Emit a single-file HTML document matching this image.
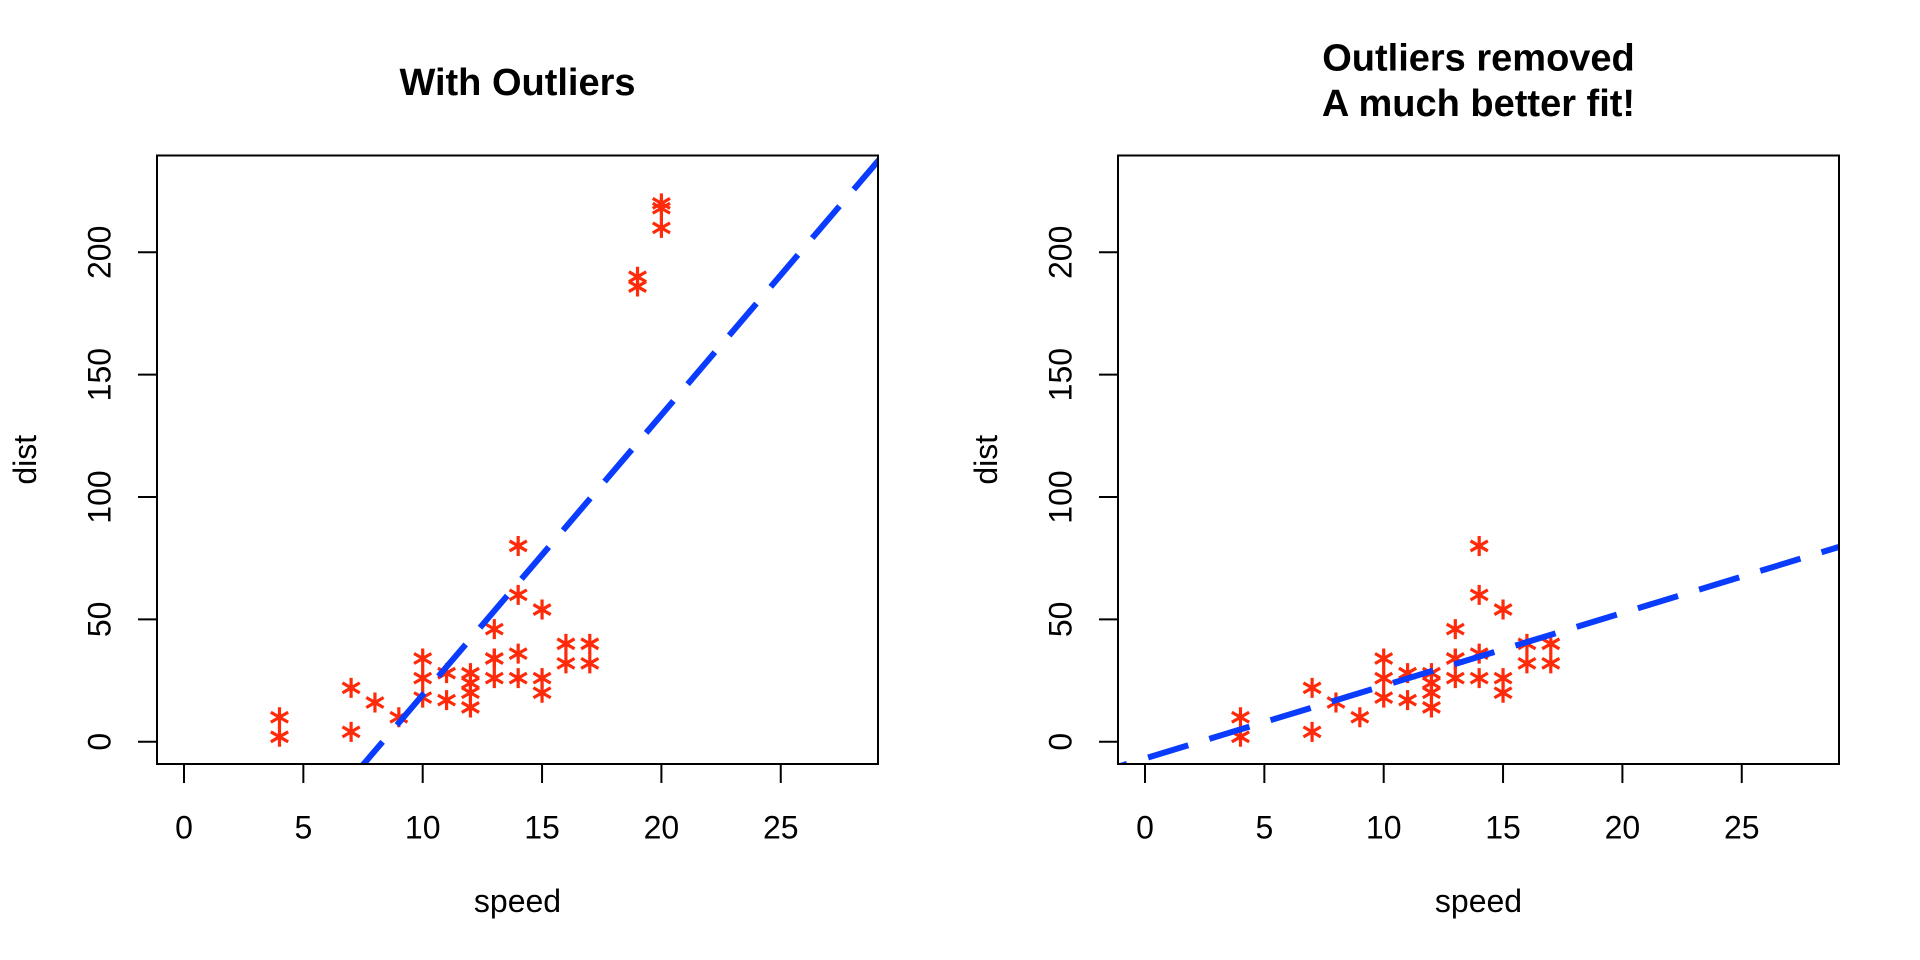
<!DOCTYPE html>
<html><head><meta charset="utf-8"><style>
html,body{margin:0;padding:0;background:#fff;overflow:hidden;width:1920px;height:960px}
svg{display:block;font-family:"Liberation Sans",Arial,sans-serif}
</style></head><body>
<svg id="chart" width="1920" height="960" viewBox="0 0 1920 960" xmlns="http://www.w3.org/2000/svg"></svg>
<script>
const speeds = [4,4,7,7,8,9,10,10,10,11,11,12,12,12,12,13,13,13,13,14,14,14,14,15,15,15,16,16,17,17];
const dists  = [2,10,4,22,16,10,18,26,34,17,28,14,20,24,28,26,34,34,46,26,36,60,80,20,26,54,32,40,32,40];
const outlierSpeeds = [19,19,20,20,20];
const outlierDists  = [190,186,210,220,218];
const xTicks = [0,5,10,15,20,25];
const yTicks = [0,50,100,150,200];
const titlesLeft = ["With Outliers"];
const titlesRight = ["Outliers removed", "A much better fit!"];

const NS = "http://www.w3.org/2000/svg";
const svg = document.getElementById('chart');
function mk(tag, attrs, parent){const e=document.createElementNS(NS,tag);for(const k in attrs)e.setAttribute(k,attrs[k]);(parent||svg).appendChild(e);return e;}

function fit(xs, ys){
  const n=xs.length; let mx=0,my=0; for(let i=0;i<n;i++){mx+=xs[i];my+=ys[i];} mx/=n; my/=n;
  let sxy=0,sxx=0; for(let i=0;i<n;i++){sxy+=(xs[i]-mx)*(ys[i]-my);sxx+=(xs[i]-mx)*(xs[i]-mx);}
  const b=sxy/sxx; return {b:b,a:my-b*mx};
}

function panel(ox, xs, ys, titles, name){
  const g = mk('g', {}, svg);
  
  
  const L=157+ox, R=878+ox, T=155.5, B=764;
  const x0px=184+ox, xScale=23.87, y0px=741.7, yScale=2.447;
  const X = v => x0px + v*xScale;
  const Y = v => y0px - v*yScale;
  const cid = 'clip-'+name;
  const defs = mk('defs', {}, g);
  const cp = mk('clipPath', {id:cid}, defs);
  mk('rect', {x:L, y:T, width:R-L, height:B-T}, cp);

  const tcx = (L+R)/2;
  const tys = titles.length===1 ? [82] : [57.5, 103];
  titles.forEach((t,i)=>{
    const e = mk('text', {x:tcx, y:tys[i]+13, 'text-anchor':'middle', 'font-size':38, 'font-weight':'bold', fill:'#000'}, g);
    e.textContent = t;
    
    
  });

  const pg = mk('g', {stroke:'#ff2a0a', 'stroke-width':3.2, 'stroke-linecap':'butt', 'clip-path':'url(#'+cid+')'}, g);
  
  
  const r = 10, cx30 = r*0.866, cy30 = r*0.5;
  for(let i=0;i<xs.length;i++){
    const cx=X(xs[i]), cy=Y(ys[i]);
    const p = mk('path', {d:`M${cx} ${cy-r}V${cy+r}M${cx-cx30} ${cy-cy30}L${cx+cx30} ${cy+cy30}M${cx-cx30} ${cy+cy30}L${cx+cx30} ${cy-cy30}`, fill:'none'}, pg);
    
    
  }

  const f = fit(xs, ys);
  const xa=-5, xb=40;
  const ln = mk('line', {x1:X(xa), y1:Y(f.a+f.b*xa), x2:X(xb), y2:Y(f.a+f.b*xb), stroke:'#0a3cff', 'stroke-width':6, 'stroke-dasharray':'42 22', 'clip-path':'url(#'+cid+')'}, g);
  
  

  const box = mk('rect', {x:L, y:T, width:R-L, height:B-T, fill:'none', stroke:'#000', 'stroke-width':2}, g);
  
  

  const xa_g = mk('g', {}, g);
  
  
  mk('line', {x1:X(xTicks[0]), y1:B, x2:X(xTicks[xTicks.length-1]), y2:B, stroke:'#000', 'stroke-width':2}, xa_g);
  xTicks.forEach(v=>{
    mk('line', {x1:X(v), y1:B, x2:X(v), y2:B+19, stroke:'#000', 'stroke-width':2}, xa_g);
    const t = mk('text', {x:X(v), y:838.5, 'text-anchor':'middle', 'font-size':32, fill:'#000'}, xa_g);
    t.textContent = v;
    
    
  });
  const xt = mk('text', {x:(L+R)/2, y:912, 'text-anchor':'middle', 'font-size':32, fill:'#000'}, g);
  xt.textContent = 'speed';
  
  

  const ya_g = mk('g', {}, g);
  
  
  yTicks.forEach(v=>{
    mk('line', {x1:L-19, y1:Y(v), x2:L, y2:Y(v), stroke:'#000', 'stroke-width':2}, ya_g);
    const tx = 110.5+ox, ty = Y(v);
    const t = mk('text', {x:tx, y:ty, 'text-anchor':'middle', 'font-size':32, fill:'#000', transform:`rotate(-90 ${tx} ${ty})`}, ya_g);
    t.textContent = v;
    
    
  });
  const yx = 36+ox, yy=(T+B)/2;
  const yt = mk('text', {x:yx, y:yy, 'text-anchor':'middle', 'font-size':32, fill:'#000', transform:`rotate(-90 ${yx} ${yy})`}, g);
  yt.textContent = 'dist';
  
  
}

panel(0, speeds.concat(outlierSpeeds), dists.concat(outlierDists), titlesLeft, 'panel-with-outliers');
panel(961, speeds, dists, titlesRight, 'panel-outliers-removed');
</script>
</body></html>
